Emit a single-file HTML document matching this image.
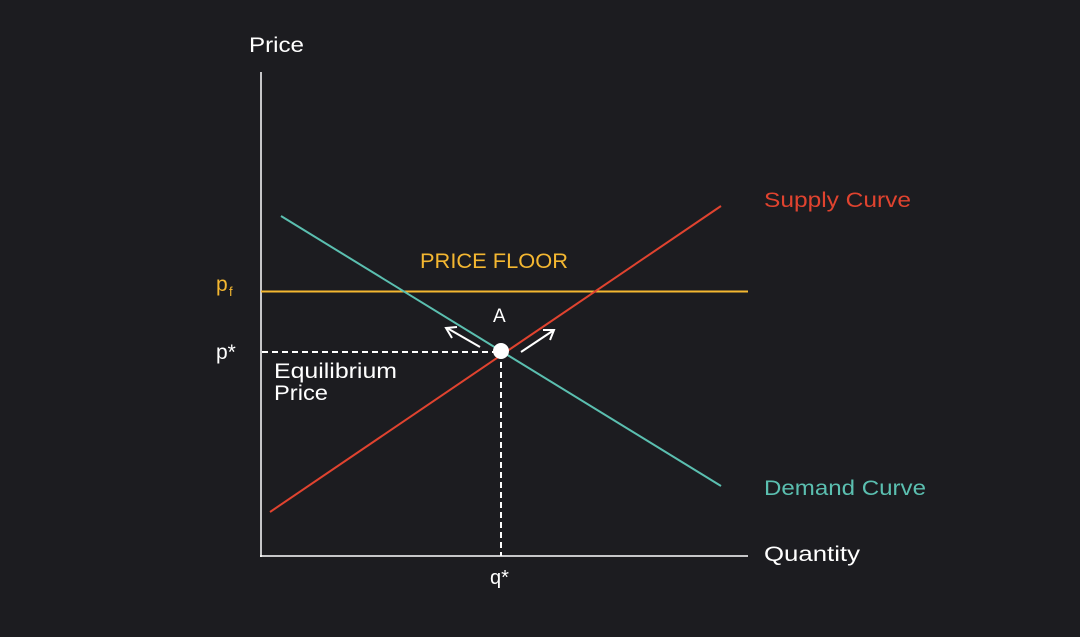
<!DOCTYPE html>
<html><head><style>
html,body{margin:0;padding:0;background:#1c1c20;}
svg{display:block}
text{font-family:"Liberation Sans",sans-serif;}
</style></head><body>
<svg width="1080" height="637" viewBox="0 0 1080 637">
<rect width="1080" height="637" fill="#1c1c20"/>
<line x1="261" y1="72" x2="261" y2="557" stroke="#fff" stroke-width="1.5"/>
<line x1="260" y1="556" x2="748" y2="556" stroke="#fff" stroke-width="1.5"/>
<text x="249" y="52" fill="#fff" font-size="21" textLength="55" lengthAdjust="spacingAndGlyphs">Price</text>
<text x="764" y="561" fill="#fff" font-size="21" textLength="96" lengthAdjust="spacingAndGlyphs">Quantity</text>
<line x1="261" y1="291.5" x2="748" y2="291.5" stroke="#f4b731" stroke-width="2"/>
<text x="420" y="268" fill="#f4b731" font-size="21" textLength="148" lengthAdjust="spacingAndGlyphs">PRICE FLOOR</text>
<text x="216" y="291" fill="#f4b731" font-size="21">p</text>
<text x="229" y="296" fill="#f4b731" font-size="13">f</text>
<text x="216" y="359" fill="#fff" font-size="21">p*</text>
<text x="490" y="584" fill="#fff" font-size="20">q*</text>
<line x1="281" y1="216" x2="721" y2="486" stroke="#5bbfb0" stroke-width="2"/>
<line x1="270" y1="512" x2="721" y2="206" stroke="#e0432f" stroke-width="2"/>
<line x1="262" y1="352" x2="500" y2="352" stroke="#fff" stroke-width="2" stroke-dasharray="6,4"/>
<line x1="501" y1="352" x2="501" y2="556" stroke="#fff" stroke-width="2" stroke-dasharray="6,4"/>
<circle cx="501" cy="351" r="8" fill="#fff"/>
<text x="493" y="322" fill="#fff" font-size="19">A</text>
<g stroke="#fff" stroke-width="2" fill="none">
<line x1="480" y1="347" x2="447" y2="328"/>
<polyline points="452,338 446,328 457,327"/>
<line x1="521" y1="352" x2="554" y2="330"/>
<polyline points="543,330 554,330 550,340"/>
</g>
<text x="274" y="378" fill="#fff" font-size="21" textLength="123" lengthAdjust="spacingAndGlyphs">Equilibrium</text>
<text x="274" y="400" fill="#fff" font-size="21" textLength="54" lengthAdjust="spacingAndGlyphs">Price</text>
<text x="764" y="207" fill="#e0432f" font-size="21" textLength="147" lengthAdjust="spacingAndGlyphs">Supply Curve</text>
<text x="764" y="495" fill="#5bbfb0" font-size="21" textLength="162" lengthAdjust="spacingAndGlyphs">Demand Curve</text>
</svg>
</body></html>
